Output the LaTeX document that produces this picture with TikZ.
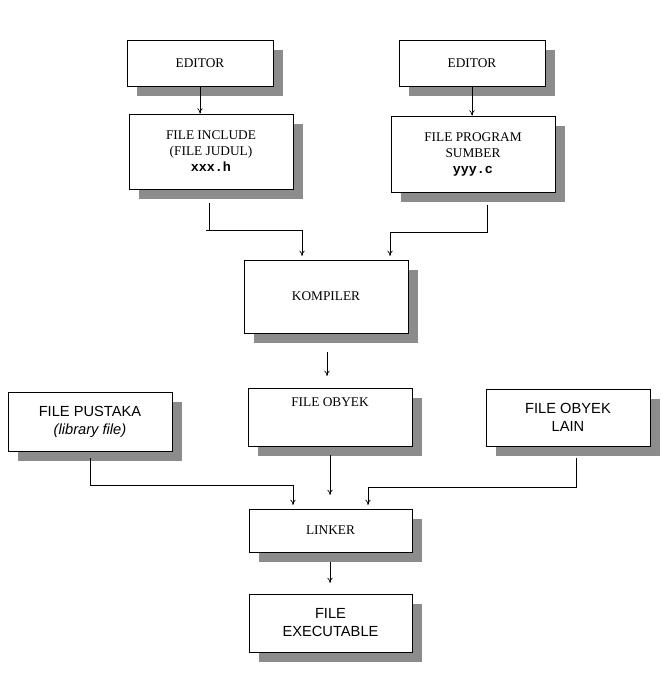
\documentclass[tikz,border=0pt]{standalone}
\usepackage{fontspec}
\setmainfont{Liberation Serif}
\newfontfamily\sansf{Liberation Sans}
\newfontfamily\monof{Liberation Mono}
\usetikzlibrary{shadows,arrows.meta}
\begin{document}
\begin{tikzpicture}[x=0.75pt,y=-0.75pt,
  box/.style={draw,fill=white,line width=0.6pt,inner sep=0pt,align=center,
    font=\fontsize{10}{12}\selectfont,
    drop shadow={shadow xshift=7.5pt,shadow yshift=-7.5pt,fill=black!45,opacity=1}},
  sbox/.style={box,font=\sansf\fontsize{11}{13.5}\selectfont},
  ar/.style={-{To[length=4pt,width=4pt]},line width=0.5pt},
  ln/.style={line width=0.5pt}]
\useasboundingbox (0,0) rectangle (668,676);
\newcommand\bx[6]{\node[#1,minimum width={(#4-#2)*0.75pt},minimum height={(#5-#3)*0.75pt}] (#6) at ({(#2+#4)/2},{(#3+#5)/2})}
\bx{box}{127}{40}{273}{86}{e1} {EDITOR};
\bx{box}{399}{40}{545}{86}{e2} {EDITOR};
\bx{box}{129}{114}{293}{189}{inc} {FILE INCLUDE\\(FILE JUDUL)\\{\monof\bfseries xxx.h}};
\bx{box}{391}{116}{555}{192}{prog} {FILE PROGRAM\\SUMBER\\{\monof\bfseries yyy.c}};
\bx{box}{244}{260}{408}{333}{komp} {KOMPILER};
\bx{sbox}{8}{392}{172}{451}{pus} {FILE PUSTAKA\\\textit{(library file)}};
\bx{box}{248}{388}{412}{446}{oby} {FILE OBYEK\\[10pt]};
\bx{sbox}{486}{389}{650}{446}{lain} {FILE OBYEK\\LAIN};
\bx{box}{249}{509}{412}{552}{link} {LINKER};
\bx{sbox}{249}{594}{412}{652}{exe} {FILE\\EXECUTABLE};
\draw[ar] (e1.south) -- (e1.south |- inc.north);
\draw[ar] (e2.south) -- (e2.south |- prog.north);
\coordinate (a1) at (209,203); \coordinate (a2) at (209,230); \coordinate (a3) at (206,230);
\coordinate (a4) at (302,230); \coordinate (a5) at (302,256);
\draw[ln] (a1) -- (a2); \draw[ar] (a3) -- (a4) -- (a5);
\coordinate (b1) at (487,205); \coordinate (b2) at (487,232);
\coordinate (b3) at (390,232); \coordinate (b4) at (390,256);
\draw[ar] (b1) -- (b2) -- (b3) -- (b4);
\coordinate (k1) at (327,352); \coordinate (k2) at (327,376);
\draw[ar] (k1) -- (k2);
\coordinate (p1) at (90,458); \coordinate (p2) at (90,485);
\coordinate (p3) at (293,485); \coordinate (p4) at (293,505);
\draw[ar] (p1) -- (p2) -- (p3) -- (p4);
\coordinate (o1) at (330,455); \coordinate (o2) at (330,495);
\draw[ar] (o1) -- (o2);
\coordinate (l1) at (576,458); \coordinate (l2) at (576,487);
\coordinate (l3) at (368,487); \coordinate (l4) at (368,505);
\draw[ar] (l1) -- (l2) -- (l3) -- (l4);
\coordinate (x1) at (330,562); \coordinate (x2) at (330,583);
\draw[ar] (x1) -- (x2);
\end{tikzpicture}
\end{document}
